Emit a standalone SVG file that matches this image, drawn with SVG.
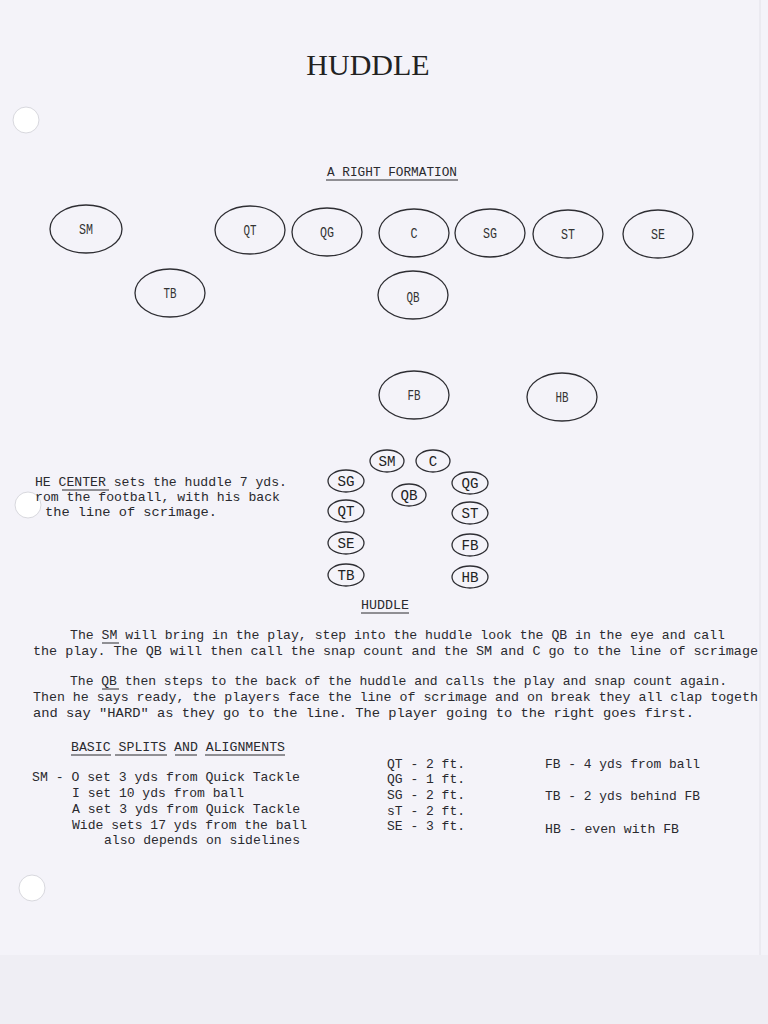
<svg xmlns="http://www.w3.org/2000/svg" width="768" height="1024" viewBox="0 0 768 1024">
<style>
.bg{fill:#f4f3f9}
.p ellipse{fill:none;stroke:#2e2e33;stroke-width:1.3}
.big text{font-family:"Liberation Mono",monospace;font-size:15px;fill:#333;text-anchor:middle}
.sm text{font-family:"Liberation Mono",monospace;font-size:14px;fill:#222;text-anchor:middle}
.t{font-family:"Liberation Mono",monospace;font-size:13.3px;fill:#2a2a2f}
.u{stroke:#2a2a2f;stroke-width:1}
.hole{fill:#ffffff;stroke:#d8d8de;stroke-width:1}
</style>
<rect class="bg" x="0" y="0" width="768" height="1024"/>
<rect x="0" y="955" width="768" height="69" fill="#efeef4"/>
<line x1="760" y1="0" x2="760" y2="955" stroke="#e2e1e8" stroke-width="1"/>
<circle class="hole" cx="26" cy="120" r="13"/>
<circle class="hole" cx="28" cy="505" r="13"/>
<circle class="hole" cx="32" cy="888" r="13"/>

<text x="368" y="75" font-family="Liberation Serif, serif" font-size="30" fill="#222" text-anchor="middle">HUDDLE</text>
<text class="t" x="327" y="176" font-size="14.5" textLength="130" lengthAdjust="spacingAndGlyphs">A RIGHT FORMATION</text>
<line class="u" x1="326" y1="180" x2="458" y2="180"/>

<g class="p big">
<g id="f-sm"><ellipse cx="86" cy="229" rx="36" ry="24"/><text x="86" y="234" textLength="14" lengthAdjust="spacingAndGlyphs">SM</text></g>
<g id="f-qt"><ellipse cx="250" cy="230" rx="35" ry="24"/><text x="250" y="235" textLength="13" lengthAdjust="spacingAndGlyphs">QT</text></g>
<g id="f-qg"><ellipse cx="327" cy="232" rx="35" ry="24"/><text x="327" y="237" textLength="14" lengthAdjust="spacingAndGlyphs">QG</text></g>
<g id="f-c"><ellipse cx="414" cy="233" rx="35" ry="24"/><text x="414" y="238" textLength="7" lengthAdjust="spacingAndGlyphs">C</text></g>
<g id="f-sg"><ellipse cx="490" cy="233" rx="35" ry="24"/><text x="490" y="238" textLength="14" lengthAdjust="spacingAndGlyphs">SG</text></g>
<g id="f-st"><ellipse cx="568" cy="234" rx="35" ry="24"/><text x="568" y="239" textLength="14" lengthAdjust="spacingAndGlyphs">ST</text></g>
<g id="f-se"><ellipse cx="658" cy="234" rx="35" ry="24"/><text x="658" y="239" textLength="14" lengthAdjust="spacingAndGlyphs">SE</text></g>
<g id="f-tb"><ellipse cx="170" cy="293" rx="35" ry="24"/><text x="170" y="298" textLength="13" lengthAdjust="spacingAndGlyphs">TB</text></g>
<g id="f-qb"><ellipse cx="413" cy="295" rx="35" ry="24"/><text x="413" y="302" textLength="13" lengthAdjust="spacingAndGlyphs">QB</text></g>
<g id="f-fb"><ellipse cx="414" cy="395" rx="35" ry="24"/><text x="414" y="400" textLength="13" lengthAdjust="spacingAndGlyphs">FB</text></g>
<g id="f-hb"><ellipse cx="562" cy="397" rx="35" ry="24"/><text x="562" y="402" textLength="13" lengthAdjust="spacingAndGlyphs">HB</text></g>
</g>

<g id="connectors"></g>

<g class="p sm">
<g id="h-sm"><ellipse cx="387" cy="461" rx="17" ry="11"/><text x="387" y="466" textLength="17" lengthAdjust="spacingAndGlyphs">SM</text></g>
<g id="h-c"><ellipse cx="433" cy="461" rx="17" ry="11"/><text x="433" y="466">C</text></g>
<g id="h-sg"><ellipse cx="346" cy="481" rx="18" ry="11"/><text x="346" y="486" textLength="17" lengthAdjust="spacingAndGlyphs">SG</text></g>
<g id="h-qg"><ellipse cx="470" cy="483" rx="18" ry="11"/><text x="470" y="488" textLength="17" lengthAdjust="spacingAndGlyphs">QG</text></g>
<g id="h-qb"><ellipse cx="409" cy="495" rx="17" ry="11"/><text x="409" y="500" textLength="17" lengthAdjust="spacingAndGlyphs">QB</text></g>
<g id="h-qt"><ellipse cx="346" cy="511" rx="18" ry="11"/><text x="346" y="516" textLength="17" lengthAdjust="spacingAndGlyphs">QT</text></g>
<g id="h-st"><ellipse cx="470" cy="513" rx="18" ry="11"/><text x="470" y="518" textLength="17" lengthAdjust="spacingAndGlyphs">ST</text></g>
<g id="h-se"><ellipse cx="346" cy="543" rx="18" ry="11"/><text x="346" y="548" textLength="17" lengthAdjust="spacingAndGlyphs">SE</text></g>
<g id="h-fb"><ellipse cx="470" cy="545" rx="18" ry="11"/><text x="470" y="550" textLength="17" lengthAdjust="spacingAndGlyphs">FB</text></g>
<g id="h-tb"><ellipse cx="346" cy="575" rx="18" ry="11"/><text x="346" y="580" textLength="17" lengthAdjust="spacingAndGlyphs">TB</text></g>
<g id="h-hb"><ellipse cx="470" cy="577" rx="18" ry="11"/><text x="470" y="582" textLength="17" lengthAdjust="spacingAndGlyphs">HB</text></g>
</g>

<text class="t" x="35" y="486" textLength="252" lengthAdjust="spacingAndGlyphs">HE CENTER sets the huddle 7 yds.</text>
<line class="u" x1="62" y1="490" x2="109" y2="490"/>
<text class="t" x="35" y="501" textLength="245" lengthAdjust="spacingAndGlyphs">rom the football, with his back</text>
<text class="t" x="45" y="516" textLength="172" lengthAdjust="spacingAndGlyphs">the line of scrimage.</text>

<text class="t" x="361" y="609" font-size="13" textLength="48" lengthAdjust="spacingAndGlyphs">HUDDLE</text>
<line class="u" x1="361" y1="613" x2="409" y2="613"/>

<text class="t" x="70" y="639" textLength="655" lengthAdjust="spacingAndGlyphs">The SM will bring in the play, step into the huddle look the QB in the eye and call</text>
<line class="u" x1="102" y1="643" x2="119" y2="643"/>
<text class="t" x="33" y="655" textLength="725" lengthAdjust="spacingAndGlyphs">the play.  The QB will then call the snap count and the SM and C go to the line of scrimage</text>
<text class="t" x="70" y="685" textLength="657" lengthAdjust="spacingAndGlyphs">The QB then steps to the back of the huddle and calls the play and snap count again.</text>
<line class="u" x1="102" y1="689" x2="119" y2="689"/>
<text class="t" x="33" y="701" textLength="725" lengthAdjust="spacingAndGlyphs">Then he says ready, the players face the line of scrimage and on break they all clap togeth</text>
<text class="t" x="33" y="717" textLength="661" lengthAdjust="spacingAndGlyphs">and say "HARD" as they go to the line.  The player going to the right goes first.</text>

<text class="t" x="71" y="751" textLength="214" lengthAdjust="spacingAndGlyphs">BASIC SPLITS AND ALIGNMENTS</text>
<line class="u" x1="71" y1="755" x2="111" y2="755"/>
<line class="u" x1="115" y1="755" x2="167" y2="755"/>
<line class="u" x1="175" y1="755" x2="197" y2="755"/>
<line class="u" x1="205" y1="755" x2="285" y2="755"/>

<text class="t" x="32" y="781" textLength="268" lengthAdjust="spacingAndGlyphs">SM - O set 3 yds from Quick Tackle</text>
<text class="t" x="72" y="797" textLength="172" lengthAdjust="spacingAndGlyphs">I set 10 yds from ball</text>
<text class="t" x="72" y="813" textLength="228" lengthAdjust="spacingAndGlyphs">A set 3 yds from Quick Tackle</text>
<text class="t" x="72" y="829" textLength="235" lengthAdjust="spacingAndGlyphs">Wide sets 17 yds from the ball</text>
<text class="t" x="104" y="844" textLength="196" lengthAdjust="spacingAndGlyphs">also depends on sidelines</text>

<text class="t" x="387" y="768" textLength="78" lengthAdjust="spacingAndGlyphs">QT - 2 ft.</text>
<text class="t" x="387" y="783" textLength="78" lengthAdjust="spacingAndGlyphs">QG - 1 ft.</text>
<text class="t" x="387" y="799" textLength="78" lengthAdjust="spacingAndGlyphs">SG - 2 ft.</text>
<text class="t" x="387" y="815" textLength="78" lengthAdjust="spacingAndGlyphs">sT - 2 ft.</text>
<text class="t" x="387" y="830" textLength="78" lengthAdjust="spacingAndGlyphs">SE - 3 ft.</text>

<text class="t" x="545" y="768" textLength="155" lengthAdjust="spacingAndGlyphs">FB - 4 yds from ball</text>
<text class="t" x="545" y="800" textLength="155" lengthAdjust="spacingAndGlyphs">TB - 2 yds behind FB</text>
<text class="t" x="545" y="833" textLength="134" lengthAdjust="spacingAndGlyphs">HB - even with FB</text>
</svg>
